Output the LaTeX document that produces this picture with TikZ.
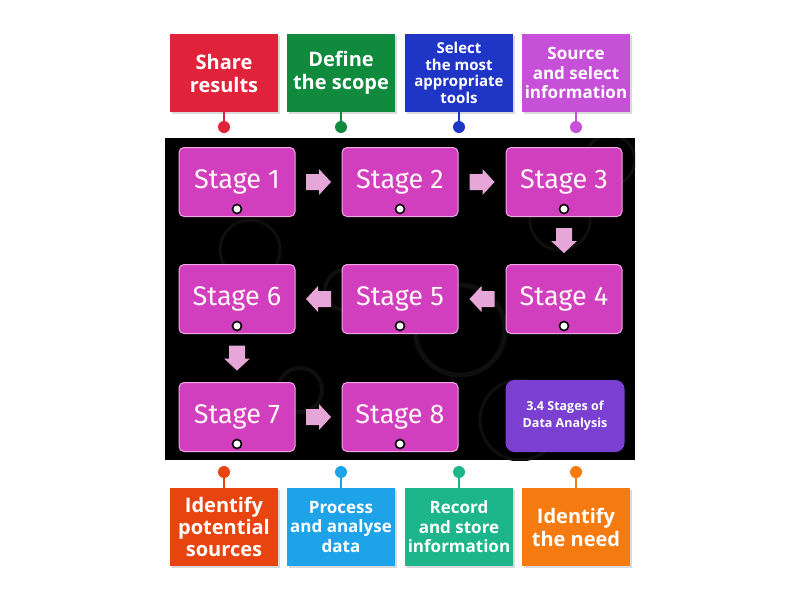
\documentclass[tikz,border=0pt]{standalone}
\usepackage{fontspec}
\setmainfont{Open Sans}
\newfontfamily\stagefont{Fira Sans}
\usetikzlibrary{calc}
\definecolor{stagefill}{HTML}{D23FBE}
\definecolor{stageline}{HTML}{F0A8E4}
\definecolor{arrowpink}{HTML}{E6A6D8}
\definecolor{cred}{HTML}{E0223A}
\definecolor{cgreen}{HTML}{108A3C}
\definecolor{cblue}{HTML}{1F35C6}
\definecolor{cmag}{HTML}{C650D8}
\definecolor{corr}{HTML}{E8440F}
\definecolor{clblue}{HTML}{1EA3E8}
\definecolor{cteal}{HTML}{1DB68A}
\definecolor{corange}{HTML}{F57A0F}
\definecolor{cpurple}{HTML}{7B3FD2}
\tikzset{
  stagebox/.style={draw=stageline, line width=1pt, fill=stagefill, rounded corners=5pt,
    minimum width=116pt, minimum height=69pt, inner sep=0pt, text=white!85!pink,
    font=\stagefont\fontsize{27}{30}\selectfont},
  dot/.style={circle, draw=black, line width=1.6pt, fill=white, minimum size=9pt, inner sep=0pt},
  labelbox/.style={minimum width=108pt, minimum height=78pt, inner sep=1pt, text=white,
    align=center},
  pinline/.style={line width=2pt},
  pindot/.style={circle, minimum size=12pt, inner sep=0pt},
  ring/.style={draw=white!6!black, line width=#1},
}
\newcommand\blockarrow[2]{%
  \fill[arrowpink, shift={(#1)}, rotate=#2] (-12.5,-8) -- (0.5,-8) -- (0.5,-13) -- (12.5,0) -- (0.5,13) -- (0.5,8) -- (-12.5,8) -- cycle;}
\begin{document}
\begin{tikzpicture}[x=1pt,y=-1pt]
\useasboundingbox[fill=white] (0,0) rectangle (800,600);
% dark panel
\fill[black] (165,138) rectangle (635,460);
\begin{scope}
\clip (165,138) rectangle (635,460);
\draw[ring=4pt] (345,290) circle (20);
\draw[ring=3pt] (410,300) circle (14);
\draw[ring=5pt] (460,330) circle (45);
\draw[ring=3pt] (560,220) circle (30);
\draw[ring=4pt] (300,390) circle (22);
\draw[ring=3pt] (610,160) circle (25);
\draw[ring=3pt] (250,250) circle (30);
\draw[ring=3pt] (520,420) circle (40);
\end{scope}
% stages
\node[stagebox] (s1) at (237,182) {Stage 1};
\node[stagebox] (s2) at (400,182) {Stage 2};
\node[stagebox] (s3) at (564,182) {Stage 3};
\node[stagebox] (s4) at (564,299) {Stage 4};
\node[stagebox] (s5) at (400,299) {Stage 5};
\node[stagebox] (s6) at (237,299) {Stage 6};
\node[stagebox] (s7) at (237,417) {Stage 7};
\node[stagebox] (s8) at (400,417) {Stage 8};
\node[fill=cpurple, rounded corners=9pt, minimum width=119pt, minimum height=72pt, text=white,
  align=center, font=\bfseries\fontsize{12.5}{17}\selectfont] (title) at (565,416) {3.4 Stages of\\Data Analysis};
% dots
\foreach \s in {1,...,8}{\node[dot] (d\s) at ($(s\s.south)+(0,-8)$) {};}
% arrows
\blockarrow{$(s1.east)!0.5!(s2.west)$}{0}
\blockarrow{$(s2.east)!0.5!(s3.west)$}{0}
\blockarrow{$(s3.south)!0.5!(s4.north)$}{-90}
\blockarrow{$(s4.west)!0.5!(s5.east)$}{180}
\blockarrow{$(s5.west)!0.5!(s6.east)$}{180}
\blockarrow{$(s6.south)!0.5!(s7.north)$}{-90}
\blockarrow{$(s7.east)!0.5!(s8.west)$}{0}
% top labels
\foreach \n/\x/\c/\t/\f/\l in {t1/224/cred/{Share\\results}/20/23, t2/341/cgreen/{Define\\the scope}/20/23,
   t3/459/cblue/{Select\\the most\\appropriate\\tools}/15/16.5, t4/576/cmag/{Source\\and select\\information}/17/19.5}{
  \fill[black!15] (\x-52,36) rectangle (\x+56,114);
  \node[labelbox, fill=\c, font=\bfseries\fontsize{\f}{\l}\selectfont] (\n) at (\x,73) {\t};
  \node[pindot, fill=\c] (\n p) at (\x,127) {};
  \draw[pinline, draw=\c] (\n.south) -- (\n p);
}
% bottom labels
\foreach \n/\x/\c/\t/\f/\l in {b1/224/corr/{Identify\\potential\\sources}/20/22, b2/341/clblue/{Process\\and analyse\\data}/17/19.5,
   b3/459/cteal/{Record\\and store\\information}/17/19.5, b4/576/corange/{Identify\\the need}/20/23}{
  \fill[black!15] (\x-52,490) rectangle (\x+56,568);
  \node[labelbox, fill=\c, font=\bfseries\fontsize{\f}{\l}\selectfont] (\n) at (\x,527) {\t};
  \node[pindot, fill=\c] (\n p) at (\x,472) {};
  \draw[pinline, draw=\c] (\n.north) -- (\n p);
}
\end{tikzpicture}
\end{document}
